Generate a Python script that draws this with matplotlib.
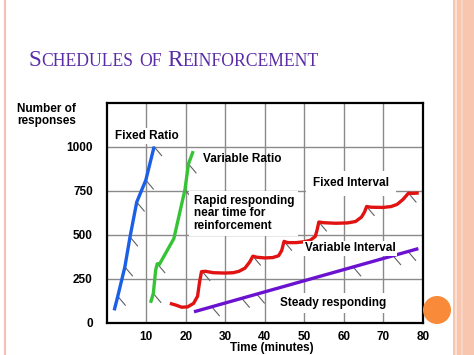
import numpy as np
import matplotlib
matplotlib.use("Agg")
import matplotlib.pyplot as plt
from matplotlib.patches import Rectangle, Ellipse
from matplotlib.lines import Line2D

# ---- data ----
fr_t = [1.9, 2.8, 4.6, 5.9, 7.6, 9.9, 12.0]
fr_y = [70, 150, 317, 487, 685, 810, 1000]
fr_hash = [2.8, 4.6, 5.9, 7.6, 9.9, 12.0]

vr_t = [11.1, 11.8, 12.4, 12.8, 13.3, 17.0, 19.8, 20.7, 21.9]
vr_y = [113, 166, 300, 335, 330, 478, 755, 902, 975]
vr_hash = [11.8, 12.8, 19.8, 20.7]

fi_t = [16.0, 17.5, 19.0, 20.5, 22.0, 23.0, 23.5, 24.0, 25.0, 27, 30, 32, 33.5, 35,
        36.2, 37.0, 38.0, 40, 42, 43.5, 44.3, 44.9, 45.8, 48, 50, 51.5, 52.8, 53.3,
        53.7, 55, 58, 61, 63, 64.5, 65.3, 65.8, 67, 70, 72, 73.5, 75, 76.4, 77.5, 79]
fi_y = [110, 100, 88, 90, 110, 150, 230, 290, 292, 284, 282, 284, 292, 310,
        345, 378, 372, 368, 370, 380, 410, 462, 455, 455, 460, 468, 490, 530,
        572, 568, 565, 567, 575, 600, 630, 660, 656, 655, 660, 672, 700, 736, 735, 737]
fi_hash = [24.2, 37.0, 44.9, 53.7, 65.8, 76.4]

vi_t = [22.1, 78.9]
vi_y = [62, 421]
vi_hash = [26.6, 34.2, 38.0, 62.4, 72.5, 76.3]

x_ticks = [10, 20, 30, 40, 50, 60, 70, 80]
y_ticks = [0, 250, 500, 750, 1000]

W, H = 474, 355
fig = plt.figure(figsize=(4.74, 3.55), dpi=100)
fig.patch.set_facecolor("white")

# page decoration
fig.add_artist(Line2D([4.5 / W, 4.5 / W], [0, 1], color="#f3c2b2", lw=1.6))
fig.add_artist(Rectangle((453 / W, 0), 21 / W, 1, color="#f8c6ae", lw=0))
for xx, c in [(455.5, "#fde6dc"), (462, "#fbd8c8")]:
    fig.add_artist(Line2D([xx / W, xx / W], [0, 1], color=c, lw=1.2))
fig.add_artist(Ellipse((437 / W, 1 - 310 / H), 28 / W, 28 / H, color="#f88a3a", lw=0))

ax = fig.add_axes([106.7 / W, 1 - 322.7 / H, 316 / W, 220 / H])
ax.set_xlim(0, 80)
ax.set_ylim(0, 1250)
ax.set_xticks(x_ticks)
ax.set_yticks(y_ticks)
ax.set_axisbelow(True)
ax.grid(True, color="#8a8a8a", lw=1.0)
ax.tick_params(length=0)
ax.tick_params(axis="x", pad=6)
ax.tick_params(axis="y", pad=10)
for lab in ax.get_xticklabels() + ax.get_yticklabels():
    lab.set_fontweight("bold")
    lab.set_fontsize(8.5)
    lab.set_fontfamily("Liberation Sans")
for s in ax.spines.values():
    s.set_linewidth(1.6)
    s.set_color("black")

def hashes(ts, xs, ys):
    for t in ts:
        y = np.interp(t, xs, ys)
        ax.annotate("", xy=(t, y), xytext=(5.5, -6.5), textcoords="offset points",
                    arrowprops=dict(arrowstyle="-", color="#606060", lw=0.8,
                                    shrinkA=0, shrinkB=0), zorder=3)

ax.plot(fr_t, fr_y, color="#1a5fe6", lw=2.4, solid_capstyle="butt", zorder=4)
hashes(fr_hash, fr_t, fr_y)
ax.plot(vr_t, vr_y, color="#36c436", lw=2.4, solid_capstyle="butt", zorder=4)
hashes(vr_hash, vr_t, vr_y)
ax.plot(fi_t, fi_y, color="#e01212", lw=2.4, solid_capstyle="butt", zorder=4)
hashes(fi_hash, fi_t, fi_y)
ax.plot(vi_t, vi_y, color="#6a12d0", lw=2.4, solid_capstyle="butt", zorder=4)
hashes(vi_hash, vi_t, vi_y)

tkw = dict(fontsize=8.5, fontweight="bold", family="Liberation Sans", zorder=5)
ax.text(2.1, 1062, "Fixed Ratio", va="center", ha="left",
        bbox=dict(facecolor="white", edgecolor="none", pad=1.5), **tkw)
ax.text(24.4, 932, "Variable Ratio", va="center", ha="left", **tkw)
ax.text(22.0, 621, "Rapid responding\nnear time for\nreinforcement", va="center",
        ha="left", linespacing=1.05, bbox=dict(facecolor="white", edgecolor="none", pad=3), **tkw)
ax.text(61.9, 791, "Fixed Interval", va="center", ha="center",
        bbox=dict(facecolor="white", edgecolor="none", pad=5), **tkw)
ax.text(61.6, 423, "Variable Interval", va="center", ha="center",
        bbox=dict(facecolor="white", edgecolor="none", pad=1), **tkw)
ax.text(57.3, 112, "Steady responding", va="center", ha="center",
        bbox=dict(facecolor="white", edgecolor="none", pad=3), **tkw)

fig.text(17 / W, 1 - 103 / H, "Number of\nresponses", ha="left", va="top",
         fontsize=8.5, fontweight="bold", family="Liberation Sans", linespacing=1.05)
fig.text(272 / W, 1 - 348.5 / H, "Time (minutes)", ha="center", va="center",
         fontsize=8.5, fontweight="bold", family="Liberation Sans")

# small-caps title, built piece by piece
fig.canvas.draw()
rend = fig.canvas.get_renderer()
title_words = ["Schedules", "of", "Reinforcement"]
x = 29 / W
yb = 1 - 66 / H
for w in title_words:
    parts = [(w[0].upper(), 16.7), (w[1:].upper(), 12.7)] if w != "of" else [(w.upper(), 12.7)]
    for txt, sz in parts:
        t = fig.text(x, yb, txt, fontsize=sz, family="Liberation Serif",
                     color="#5a2ca6", ha="left", va="baseline")
        x += t.get_window_extent(rend).width / W
    x += 5.5 / W

fig.savefig("out.png", dpi=100, facecolor="white")
